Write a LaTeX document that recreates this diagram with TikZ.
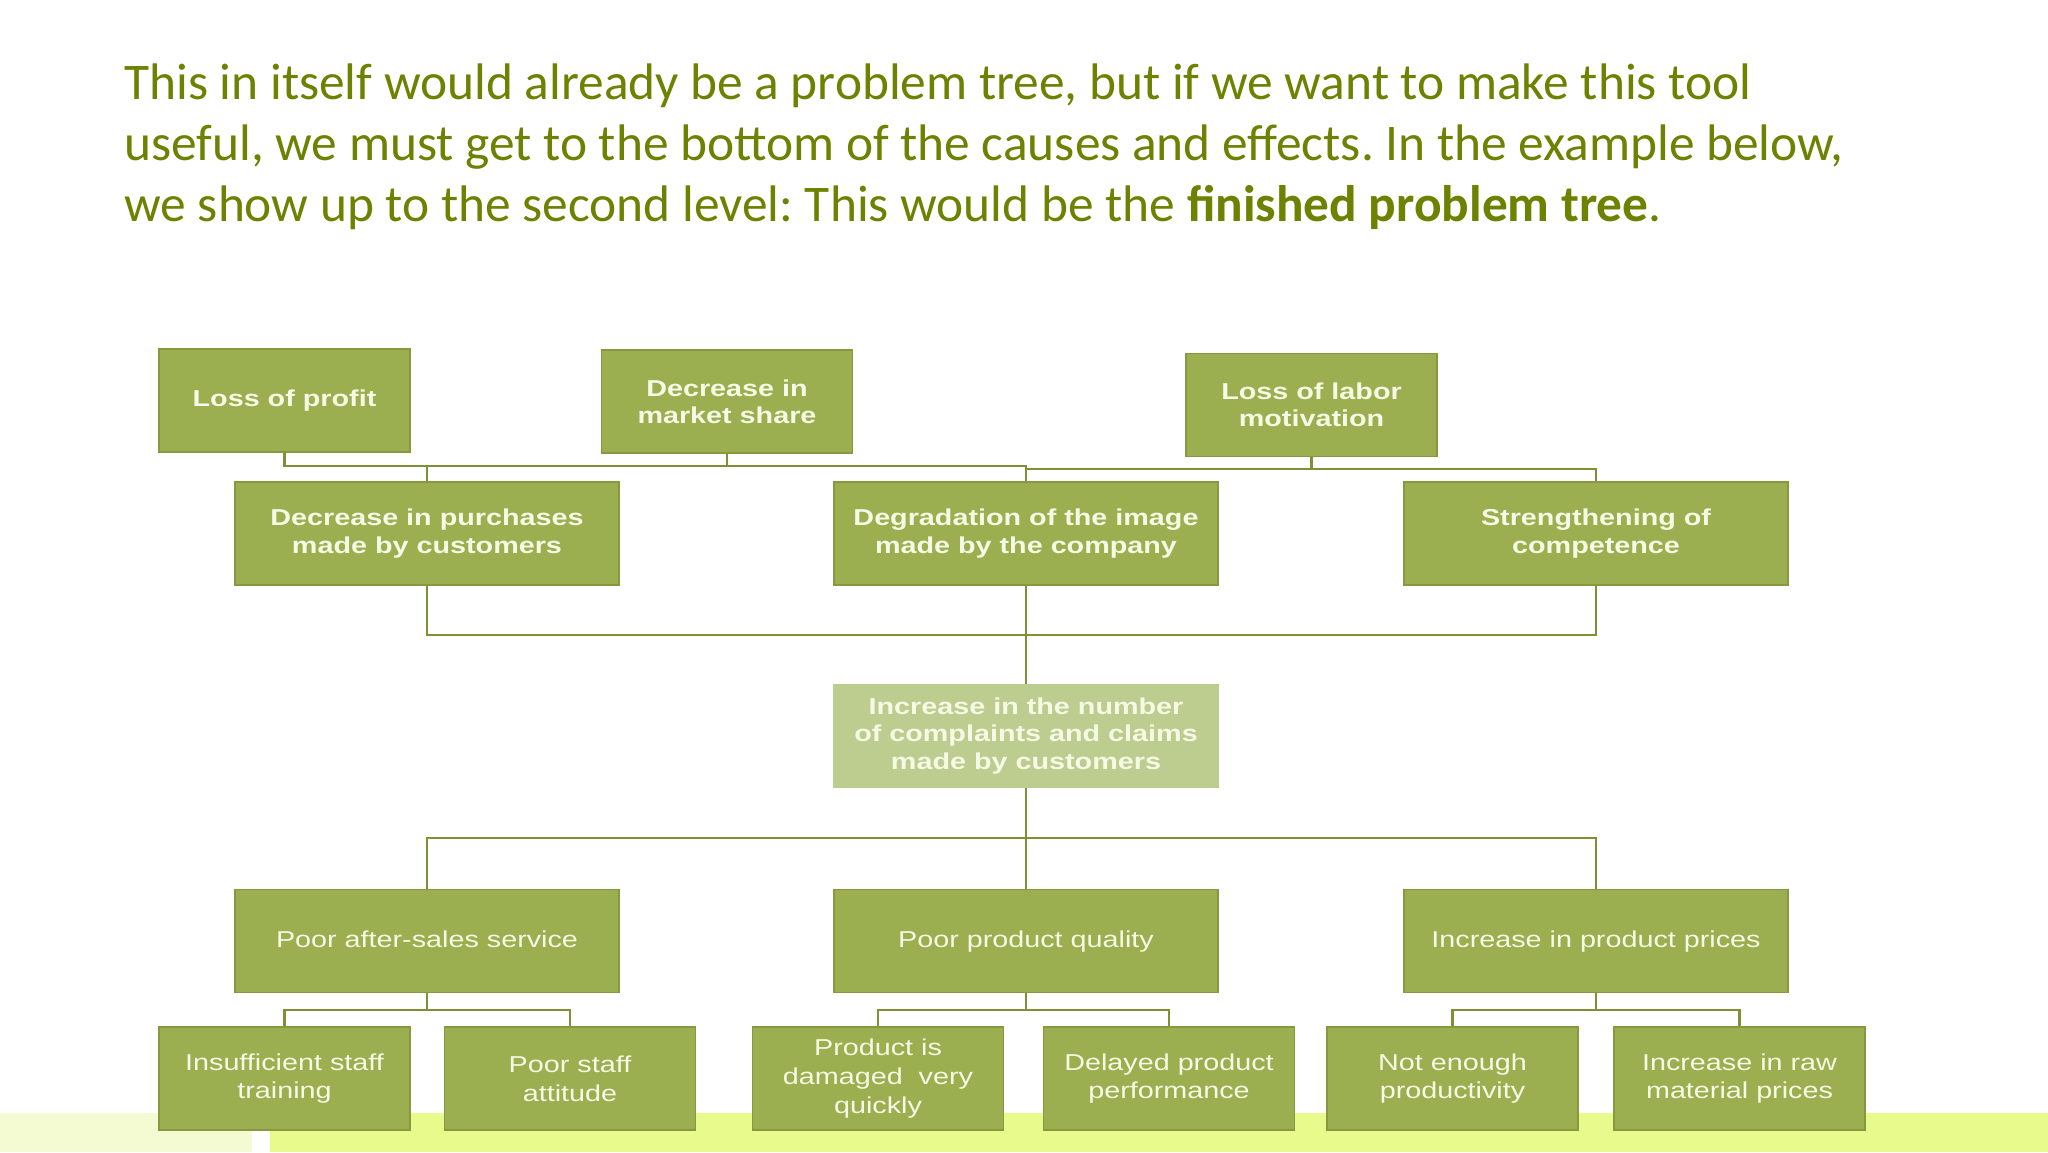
\documentclass[tikz,border=0pt]{standalone}
\usepackage{fontspec}
\setmainfont{Carlito}
\newfontfamily\boxfont[FakeStretch=1.25]{Liberation Sans}
\usetikzlibrary{positioning}
\frenchspacing

\definecolor{headgreen}{HTML}{6C8200}
\definecolor{boxgreen}{HTML}{9BAF50}
\definecolor{boxedge}{HTML}{86993F}
\definecolor{paleboxgreen}{HTML}{BDCC8F}
\definecolor{boxtext}{HTML}{F6F9E4}
\definecolor{linkgreen}{HTML}{7D9235}
\definecolor{bandlime}{HTML}{E8FA8C}
\definecolor{bandpale}{HTML}{F4FBD2}

\begin{document}
\begin{tikzpicture}[
    x=0.5pt, y=-0.5pt,
    box/.style={rectangle, draw=boxedge, fill=boxgreen, text=boxtext, align=center, minimum height=51.5pt, line width=0.6pt, inner sep=2pt},
    effect/.style={box, font=\boxfont\bfseries\fontsize{11.5}{13.7}\selectfont},
    cause/.style={box, font=\boxfont\fontsize{11.5}{14.3}\selectfont},
    oneline/.style={text height=8.5pt, text depth=2.5pt},
    narrow/.style={minimum width=125.5pt},
    wide/.style={minimum width=192pt},
    link/.style={draw=linkgreen, line width=1.2pt}
]
\useasboundingbox (0,0) rectangle (2048,1152);

% Bottom band
\fill[bandpale] (0,1113) rectangle (252,1152);
\fill[bandlime] (270,1113) rectangle (2048,1152);

% Heading
\node[anchor=north west, inner sep=0pt, align=left, text=headgreen,
      font=\fontsize{25.7}{30.5}\selectfont] (head) at (124,63)
  {This in itself would already be a problem tree, but if we want to make this tool\\
   useful, we must get to the bottom of the causes and effects. In the example below,\\
   we show up to the second level: This would be the \textbf{finished problem tree}.};

% Effects, second level
\node[effect, narrow, oneline] (lop) at (284.5,400.5) {Loss of profit};
\node[effect, narrow] (dms) at (727,401.5) {Decrease in\\market share};
\node[effect, narrow] (llm) at (1311.5,405) {Loss of labor\\motivation};

% Effects, first level
\node[effect, wide] (dpc) at (427,533.5) {Decrease in purchases\\made by customers};
\node[effect, wide] (dic) at (1026,533.5) {Degradation of the image\\made by the company};
\node[effect, wide] (soc) at (1596,533.5) {Strengthening of\\competence};

% Central problem
\node[effect, wide, fill=paleboxgreen, draw=paleboxgreen] (inc) at (1026,736)
  {Increase in the number\\of complaints and claims\\made by customers};

% Causes, first level
\node[cause, wide, oneline] (pas) at (427,941) {Poor after-sales service};
\node[cause, wide, oneline] (ppq) at (1026,941) {Poor product quality};
\node[cause, wide, oneline] (ipp) at (1596,941) {Increase in product prices};

% Causes, second level
\node[cause, narrow] (ist) at (284.5,1078.5) {Insufficient staff\\training};
\node[cause, narrow] (psa) at (570,1078.5) {Poor staff\\attitude};
\node[cause, narrow] (pdq) at (878,1078.5) {Product is\\damaged\ \ very\\quickly};
\node[cause, narrow] (dpp) at (1169,1078.5) {Delayed product\\performance};
\node[cause, narrow] (nep) at (1452.5,1078.5) {Not enough\\productivity};
\node[cause, narrow] (irm) at (1739.5,1078.5) {Increase in raw\\material prices};

% Bus lines
\coordinate (busA) at (0,466);
\coordinate (busB) at (0,469);
\coordinate (busC) at (0,635);
\coordinate (busD) at (0,838);
\coordinate (busE) at (0,1010);

% Connectors, effects
\draw[link] (lop.south) |- (busA -| dic.north) -- (dic.north);
\draw[link] (dms.south) -- (dms.south |- busA);
\draw[link] (dpc.north) -- (dpc.north |- busA);
\draw[link] (dic.north) |- (busB -| soc.north) -- (soc.north);
\draw[link] (llm.south) -- (llm.south |- busB);
\draw[link] (dpc.south) |- (busC -| soc.south) -- (soc.south);
\draw[link] (dic.south) -- (inc.north);

% Connectors, causes
\draw[link] (inc.south) -- (ppq.north);
\draw[link] (pas.north) |- (busD -| ipp.north) -- (ipp.north);
\draw[link] (ist.north) |- (busE -| psa.north) -- (psa.north);
\draw[link] (pas.south) -- (pas.south |- busE);
\draw[link] (pdq.north) |- (busE -| dpp.north) -- (dpp.north);
\draw[link] (ppq.south) -- (ppq.south |- busE);
\draw[link] (nep.north) |- (busE -| irm.north) -- (irm.north);
\draw[link] (ipp.south) -- (ipp.south |- busE);

\end{tikzpicture}
\end{document}
